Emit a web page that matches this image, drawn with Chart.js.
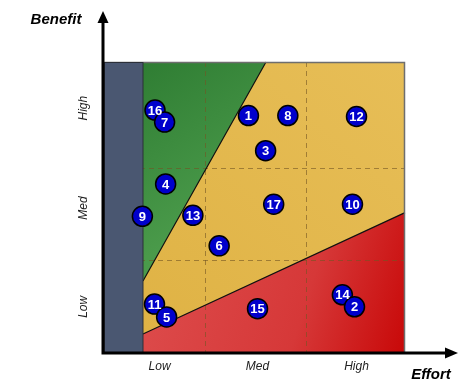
<!DOCTYPE html>
<html><head><meta charset="utf-8">
<script src="https://cdn.jsdelivr.net/npm/chart.js@4"></script>
<style>html,body{margin:0;padding:0;background:#fff}#wrap{width:474px;height:392px}</style>
</head><body><div id="wrap"><canvas id="c" width="474" height="392"></canvas></div>
<script>
const itemLabels  = ['16','7','4','1','8','12','3','9','13','6','17','10','11','5','15','14','2'];
const itemEffort  = [0.505,0.60,0.61,1.43,1.82,2.50,1.60,0.38,0.88,1.14,1.68,2.46,0.50,0.62,1.52,2.36,2.48];
const itemBenefit = [2.63,2.50,1.83,2.57,2.57,2.56,2.19,1.48,1.49,1.16,1.61,1.61,0.53,0.39,0.48,0.63,0.50];
const effortTicks = ['Low','Med','High'];
const effortTickAt = [0.55,1.52,2.5];
const benefitTicks = ['Low','Med','High'];
const benefitTickAt = [0.5,1.57,2.65];
const effortGrid = [1,2];
const benefitGrid = [1,2];
const effortMax = 2.98, benefitMax = 3.15;
const blockedEffort = 0.386;
const greenZone = [[0.386,3.15],[1.604,3.15],[0.386,0.78]];
const redZone = [[0.386,0.205],[2.98,1.52],[2.98,0],[0.386,0]];

function poly(ctx, pts, x, y) {
  ctx.beginPath();
  pts.forEach((p, i) => {
    const px = x.getPixelForValue(p[0]), py = y.getPixelForValue(p[1]);
    if (i === 0) ctx.moveTo(px, py); else ctx.lineTo(px, py);
  });
  ctx.closePath();
}

const zonesPlugin = {
  id: 'zones',
  beforeDraw(chart) {
    const {ctx, chartArea: a, scales: {x, y}} = chart;
    const bx = x.getPixelForValue(blockedEffort);
    ctx.save();
    let g = ctx.createLinearGradient(bx, a.bottom, a.right, a.top);
    g.addColorStop(0, '#dfb244'); g.addColorStop(1, '#e7be57');
    ctx.fillStyle = g;
    ctx.fillRect(bx, a.top, a.right - bx, a.bottom - a.top);
    // green
    g = ctx.createLinearGradient(bx, a.top, bx + 90, a.top + 140);
    g.addColorStop(0, '#2f7d33'); g.addColorStop(1, '#4a9a4a');
    poly(ctx, greenZone, x, y);
    ctx.fillStyle = g; ctx.fill();
    // red
    g = ctx.createLinearGradient(bx, y.getPixelForValue(0.9), a.right, a.bottom);
    g.addColorStop(0, '#dd4c4c'); g.addColorStop(0.6, '#d63838'); g.addColorStop(1, '#c80808');
    poly(ctx, redZone, x, y);
    ctx.fillStyle = g; ctx.fill();
    ctx.restore();
  },
  beforeDatasetsDraw(chart) {
    const {ctx, chartArea: a, scales: {x, y}} = chart;
    const bx = x.getPixelForValue(blockedEffort);
    ctx.save();
    ctx.strokeStyle = '#111'; ctx.lineWidth = 1.2;
    ctx.beginPath();
    ctx.moveTo(x.getPixelForValue(greenZone[1][0]), y.getPixelForValue(greenZone[1][1]));
    ctx.lineTo(x.getPixelForValue(greenZone[2][0]), y.getPixelForValue(greenZone[2][1]));
    ctx.moveTo(x.getPixelForValue(redZone[0][0]), y.getPixelForValue(redZone[0][1]));
    ctx.lineTo(x.getPixelForValue(redZone[1][0]), y.getPixelForValue(redZone[1][1]));
    ctx.stroke();
    ctx.strokeStyle = '#6e6e6e'; ctx.lineWidth = 1.5;
    ctx.beginPath();
    ctx.moveTo(a.left, a.top + 0.5); ctx.lineTo(a.right - 0.5, a.top + 0.5); ctx.lineTo(a.right - 0.5, a.bottom);
    ctx.stroke();
    ctx.fillStyle = '#4a5771';
    ctx.fillRect(a.left, a.top, bx - a.left, a.bottom - a.top);
    ctx.strokeStyle = '#2b2f38'; ctx.lineWidth = 1;
    ctx.strokeRect(a.left + 0.5, a.top + 0.5, bx - a.left - 0.5, a.bottom - a.top);
    ctx.strokeStyle = '#000'; ctx.fillStyle = '#000'; ctx.lineWidth = 3;
    const ax = a.left - 1, ay = a.bottom;
    ctx.beginPath();
    ctx.moveTo(ax, ay + 1.5); ctx.lineTo(ax, 20);
    ctx.moveTo(ax - 1.5, ay); ctx.lineTo(448, ay);
    ctx.stroke();
    ctx.beginPath();
    ctx.moveTo(ax, 11); ctx.lineTo(ax - 5.5, 23); ctx.lineTo(ax + 5.5, 23); ctx.closePath(); ctx.fill();
    ctx.beginPath();
    ctx.moveTo(458, ay); ctx.lineTo(445, ay - 5.5); ctx.lineTo(445, ay + 5.5); ctx.closePath(); ctx.fill();
    ctx.restore();
  },
  afterDatasetsDraw(chart) {
    const {ctx, chartArea: a, scales: {x, y}} = chart;
    const meta = chart.getDatasetMeta(0);
    ctx.save();
    ctx.fillStyle = '#fff';
    ctx.font = 'bold 13px "Liberation Sans", Arial, sans-serif';
    ctx.textAlign = 'center'; ctx.textBaseline = 'middle';
    meta.data.forEach((el, i) => ctx.fillText(itemLabels[i], el.x, el.y + 1));
    ctx.fillStyle = '#222';
    ctx.font = 'italic 12px "Liberation Sans", Arial, sans-serif';
    effortTicks.forEach((t, i) => ctx.fillText(t, x.getPixelForValue(effortTickAt[i]), a.bottom + 14));
    benefitTicks.forEach((t, i) => {
      ctx.save();
      ctx.translate(a.left - 20, y.getPixelForValue(benefitTickAt[i]));
      ctx.rotate(-Math.PI / 2);
      ctx.fillText(t, 0, 0);
      ctx.restore();
    });
    ctx.fillStyle = '#000';
    ctx.font = 'italic bold 15px "Liberation Sans", Arial, sans-serif';
    ctx.fillText('Benefit', 56, 20);
    ctx.fillText('Effort', 431, 375);
    ctx.restore();
  }
};

const gridColor = 'rgba(115,85,35,0.6)';
new Chart(document.getElementById('c'), {
  type: 'bubble',
  data: {
    datasets: [{
      data: itemLabels.map((l, i) => ({x: itemEffort[i], y: itemBenefit[i], r: 10})),
      backgroundColor: '#0000cc', borderColor: '#000', borderWidth: 1.5
    }]
  },
  options: {
    responsive: false, animation: false, events: [],
    layout: {padding: {left: 104, top: 62, right: 69, bottom: 39}},
    plugins: {legend: {display: false}, tooltip: {enabled: false}},
    scales: {
      x: {type: 'linear', min: 0, max: effortMax,
          afterFit: s => { s.height = 0; },
          afterBuildTicks: s => { s.ticks = effortGrid.map(v => ({value: v})); },
          ticks: {display: false},
          grid: {color: gridColor, lineWidth: 1, drawTicks: false},
          border: {display: false, dash: [5, 4]}},
      y: {type: 'linear', min: 0, max: benefitMax,
          afterFit: s => { s.width = 0; },
          afterBuildTicks: s => { s.ticks = benefitGrid.map(v => ({value: v})); },
          ticks: {display: false},
          grid: {color: gridColor, lineWidth: 1, drawTicks: false},
          border: {display: false, dash: [5, 4]}}
    }
  },
  plugins: [zonesPlugin]
});
</script>
</body></html>
